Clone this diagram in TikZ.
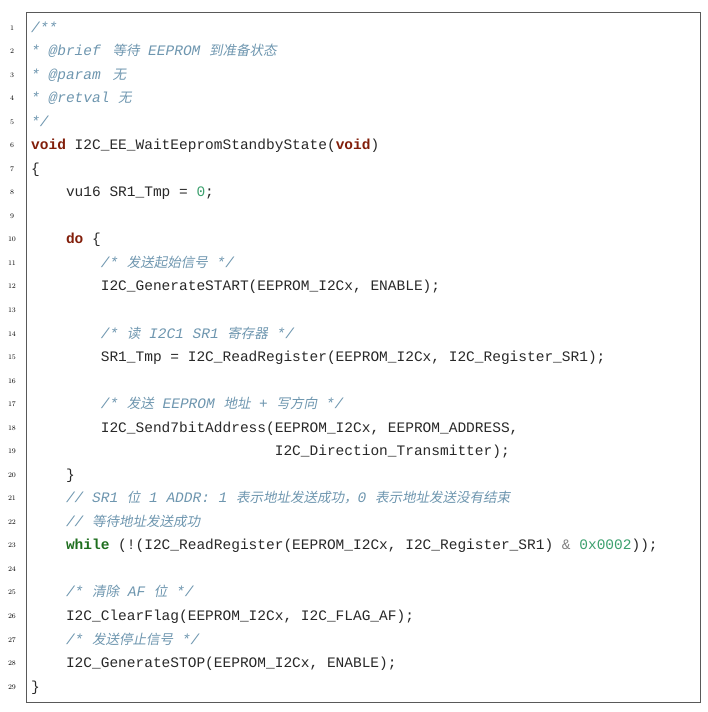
\documentclass[tikz,border=0pt]{standalone}
\usepackage{fontspec}
\setmonofont{Liberation Mono}
\newfontfamily\cjk{Noto Sans CJK SC}
\newfontfamily\cjki[FakeSlant=0.2]{Noto Sans CJK SC}
\definecolor{cmtc}{RGB}{110,150,175}
\definecolor{kwc}{RGB}{130,30,10}
\definecolor{whc}{RGB}{30,110,30}
\definecolor{numc}{RGB}{60,160,110}
\definecolor{txtc}{RGB}{40,40,40}
\newcommand{\zh}[1]{{\cjki\fontsize{13.5}{14}\selectfont #1}}
\newcommand{\cm}[1]{{\color{cmtc}\itshape #1}}
\newcommand{\kw}[1]{{\color{kwc}\bfseries #1}}
\newcommand{\wh}[1]{{\color{whc}\bfseries #1}}
\newcommand{\nm}[1]{{\color{numc}#1}}
\tikzset{code/.style={anchor=base west,inner sep=0pt,font=\ttfamily\fontsize{14.5}{16}\selectfont,text=txtc},
lnum/.style={anchor=base,inner sep=0pt,font=\fontsize{7}{8}\selectfont}}
\begin{document}
\begin{tikzpicture}[x=1pt,y=-1pt]
\useasboundingbox (0,0) rectangle (707,712);
\draw[gray!70!black,line width=0.8pt] (26,12) rectangle (700,702);
\foreach \i in {1,...,29}{\node[lnum] (n\i) at (12,{27+(\i-1)*23.54+3}) {\i};}
\def\L#1#2#3{\node[code] (l#1) at ({31+8.7*#2},{27+(#1-1)*23.54+5}) {#3};}
\L{1}{0}{\cm{/**}}
\L{2}{0}{\cm{* @brief \zh{ 等待} EEPROM \zh{到准备状态}}}
\L{3}{0}{\cm{* @param \zh{ 无}}}
\L{4}{0}{\cm{* @retval \zh{无}}}
\L{5}{0}{\cm{*/}}
\L{6}{0}{\kw{void} I2C\_EE\_WaitEepromStandbyState(\kw{void})}
\L{7}{0}{\{}
\L{8}{4}{vu16 SR1\_Tmp = \nm{0};}
\L{10}{4}{\kw{do} \{}
\L{11}{8}{\cm{/* \zh{发送起始信号} */}}
\L{12}{8}{I2C\_GenerateSTART(EEPROM\_I2Cx, ENABLE);}
\L{14}{8}{\cm{/* \zh{读} I2C1 SR1 \zh{寄存器} */}}
\L{15}{8}{SR1\_Tmp = I2C\_ReadRegister(EEPROM\_I2Cx, I2C\_Register\_SR1);}
\L{17}{8}{\cm{/* \zh{发送} EEPROM \zh{地址} + \zh{写方向} */}}
\L{18}{8}{I2C\_Send7bitAddress(EEPROM\_I2Cx, EEPROM\_ADDRESS,}
\L{19}{28}{I2C\_Direction\_Transmitter);}
\L{20}{4}{\}}
\L{21}{4}{\cm{// SR1 \zh{位} 1 ADDR: 1 \zh{表示地址发送成功，}0 \zh{表示地址发送没有结束}}}
\L{22}{4}{\cm{// \zh{等待地址发送成功}}}
\L{23}{4}{\wh{while} (!(I2C\_ReadRegister(EEPROM\_I2Cx, I2C\_Register\_SR1) {\color{gray}\&} \nm{0x0002}));}
\L{25}{4}{\cm{/* \zh{清除} AF \zh{位} */}}
\L{26}{4}{I2C\_ClearFlag(EEPROM\_I2Cx, I2C\_FLAG\_AF);}
\L{27}{4}{\cm{/* \zh{发送停止信号} */}}
\L{28}{4}{I2C\_GenerateSTOP(EEPROM\_I2Cx, ENABLE);}
\L{29}{0}{\}}
\end{tikzpicture}
\end{document}
